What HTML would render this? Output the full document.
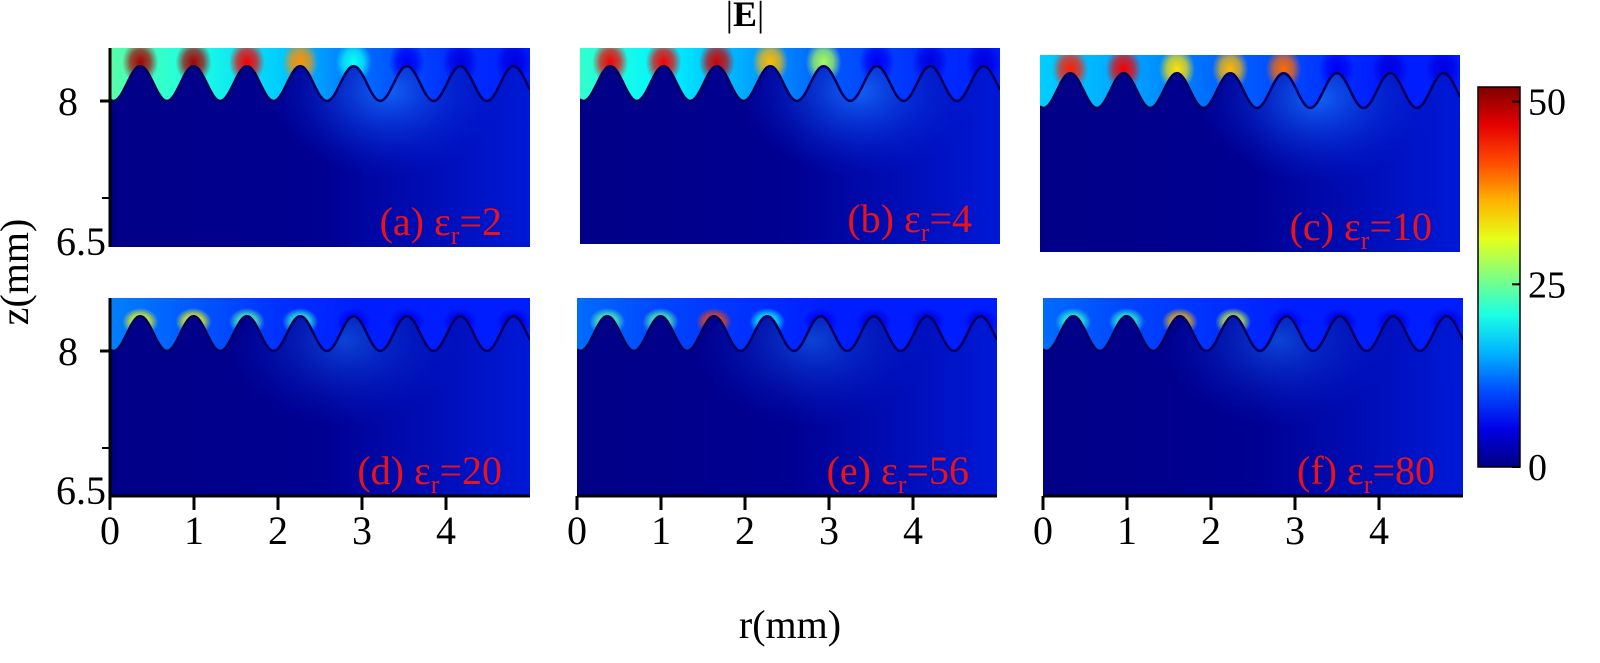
<!DOCTYPE html>
<html><head><meta charset="utf-8"><style>
body{margin:0;background:#fff}
svg{display:block;font-family:"Liberation Serif",serif}
</style></head><body>
<svg id="fig" width="1600" height="663" viewBox="0 0 1600 663" xmlns="http://www.w3.org/2000/svg">
<defs id="defs"></defs>
<text x="745" y="26" font-size="36" text-anchor="middle">|<tspan font-weight="bold">E</tspan>|</text>
<text transform="translate(28,272) rotate(-90)" font-size="40" text-anchor="middle">z(mm)</text>
<text x="790" y="638" font-size="40" text-anchor="middle">r(mm)</text>
<g id="panels"></g>
<g id="cbar"></g>
</svg>
<script>
const panelLabels=["(a)","(b)","(c)","(d)","(e)","(f)"];
const epsValues=["2","4","10","20","56","80"];
// top-field intensity (0..52) at r = 0..5 mm
const topFieldA=[24,21,17,12,9,8];
const topFieldB=[22,19,15,11,9,8];
const topFieldC=[17,15,12,10,8,8];
const topFieldD=[13,11,9,8,8,8];
const topFieldE=[12,10,9,8,8,8];
const topFieldF=[12,10,9,8,8,8];
// crest hot-spot intensities for 8 crests
const crestA=[50,50,46,38,20,6,5,5];
const crestB=[46,46,48,36,28,6,5,5];
const crestC=[44,46,34,36,40,6,5,5];
const crestD=[32,32,24,22,6,5,5,5];
const crestE=[24,24,42,20,6,5,5,5];
const crestF=[22,22,36,30,6,5,5,5];
const xTicks=[0,1,2,3,4];
const cbTicks=[0,25,50];
const topFields=[topFieldA,topFieldB,topFieldC,topFieldD,topFieldE,topFieldF];
const crests=[crestA,crestB,crestC,crestD,crestE,crestF];
const layout=[[110,48,247],[580,48,244],[1040,55,252],[110,298,496],[577,298,496],[1043,298,496]];
const VMAX=52, PXR=84, PXZ=97;
function jet(v){let t=Math.max(0,Math.min(1,v/VMAX));
 const f=(x)=>Math.max(0,Math.min(1,x));
 const r=f(1.5-Math.abs(4*t-3)),g=f(1.5-Math.abs(4*t-2)),b=f(1.5-Math.abs(4*t-1));
 return `rgb(${Math.round(r*255)},${Math.round(g*255)},${Math.round(b*255)})`;}
const NS="http://www.w3.org/2000/svg";
function mk(tag,attrs,parent){const e=document.createElementNS(NS,tag);for(const k in attrs)e.setAttribute(k,attrs[k]);parent.appendChild(e);return e;}
const defs=document.getElementById('defs');const root=document.getElementById('panels');
layout.forEach((L,i)=>{
 const [x0,top,bot]=L;const W=420;
 const sx=r=>x0+r*PXR; const y8=top+53; const sy=z=>y8-(z-8)*PXZ;
 const g=mk('g',{},root);
 
 
 const cid='clip'+i;const cp=mk('clipPath',{id:cid},defs);mk('rect',{x:x0,y:top,width:W,height:bot-top},cp);
 const bg=mk('linearGradient',{id:'bg'+i,x1:0,y1:0,x2:1,y2:0},defs);
 mk('stop',{offset:0,'stop-color':'rgb(0,0,135)'},bg);mk('stop',{offset:0.5,'stop-color':'rgb(0,0,145)'},bg);mk('stop',{offset:1,'stop-color':'rgb(0,25,215)'},bg);
 const cg=mk('g',{'clip-path':`url(#${cid})`},g);
 mk('rect',{x:x0,y:top,width:W,height:bot-top,fill:`url(#bg${i})`},cg);
 const rg=mk('radialGradient',{id:'gl'+i,cx:0.5,cy:0.3,r:0.5},defs);
 mk('stop',{offset:0,'stop-color':'rgb(20,110,255)','stop-opacity':i<3?0.9:0.6},rg);mk('stop',{offset:1,'stop-color':'rgb(0,30,220)','stop-opacity':0},rg);
 const gc=i<3?3.3:2.8;
 mk('ellipse',{cx:sx(gc),cy:sy(7.75),rx:PXR*1.4,ry:PXZ*0.9,fill:`url(#gl${i})`},cg);
 let pts=[];for(let k=0;k<=200;k++){const r=k*5/200;const z=8.18+0.18*Math.cos(2*Math.PI*(r-0.36)/0.635);pts.push([sx(r),sy(z)]);}
 const d='M'+pts.map(p=>p[0].toFixed(1)+','+p[1].toFixed(1)).join('L');
 const tf=topFields[i];const tg=mk('linearGradient',{id:'tf'+i,x1:0,y1:0,x2:1,y2:0},defs);
 tf.forEach((v,k)=>mk('stop',{offset:k/(tf.length-1),'stop-color':jet(v)},tg));
 const tp=mk('path',{d:d+`L${x0+W},${top}L${x0},${top}Z`,fill:`url(#tf${i})`},cg);
 
 
 const wcid='wc'+i;const wcp=mk('clipPath',{id:wcid},defs);mk('path',{d:d+`L${x0+W},${top-5}L${x0},${top-5}Z`},wcp);
 const hg=mk('g',{'clip-path':`url(#${wcid})`},cg);
 crests[i].forEach((v,k)=>{const r=0.36+k*0.635;
  const rgid='h'+i+'_'+k;const hr=mk('radialGradient',{id:rgid},defs);
  mk('stop',{offset:0,'stop-color':jet(v)},hr);mk('stop',{offset:0.55,'stop-color':jet(v),'stop-opacity':0.7},hr);mk('stop',{offset:1,'stop-color':jet(v),'stop-opacity':0},hr);
  const cy=i<3?sy(8.4):sy(8.3);
  const e=mk('ellipse',{cx:sx(r),cy:cy,rx:18,ry:i<3?22:14,fill:`url(#${rgid})`},hg);
  
  
 });
 mk('path',{d:d,fill:'none',stroke:'rgb(0,0,90)','stroke-width':2.5},cg);
 const t=mk('text',{x:x0+W-28,y:bot-12,'font-size':40,fill:'#e8141a','text-anchor':'end'},g);
 
 
 t.innerHTML=`${panelLabels[i]} ε<tspan font-size="26" dy="9">r</tspan><tspan dy="-9">=${epsValues[i]}</tspan>`;
 if(i===0||i===3){mk('line',{x1:x0,y1:top,x2:x0,y2:bot,stroke:'#000','stroke-width':3},g);
  mk('line',{x1:x0-10,y1:y8,x2:x0,y2:y8,stroke:'#000','stroke-width':3},g);
  mk('line',{x1:x0-8,y1:sy(7),x2:x0,y2:sy(7),stroke:'#000','stroke-width':2},g);
  mk('text',{x:x0-42,y:y8+14,'font-size':40,'text-anchor':'middle'},g).textContent='8';
  mk('text',{x:x0-4,y:bot+8,'font-size':40,'text-anchor':'end'},g).textContent='6.5';
 }
 if(i>=3){mk('line',{x1:x0,y1:bot,x2:x0+W,y2:bot,stroke:'#000','stroke-width':3},g);
  xTicks.forEach(v=>{mk('line',{x1:sx(v),y1:bot,x2:sx(v),y2:bot+14,stroke:'#000','stroke-width':3},g);
   const tt=mk('text',{x:sx(v),y:bot+48,'font-size':40,'text-anchor':'middle'},g);tt.textContent=v;
   
   });}
});
const cb=document.getElementById('cbar');const cbx=1478,cbt=87,cbb=467;
const lg=mk('linearGradient',{id:'cbg',x1:0,y1:1,x2:0,y2:0},defs);
for(let k=0;k<=10;k++)mk('stop',{offset:k/10,'stop-color':jet(k/10*VMAX)},lg);
mk('rect',{x:cbx,y:cbt,width:42,height:cbb-cbt,fill:'url(#cbg)',stroke:'#000','stroke-width':1.5},cb);
cbTicks.forEach(v=>{const y=cbb-(v/VMAX)*(cbb-cbt);
 mk('line',{x1:cbx+34,y1:y,x2:cbx+42,y2:y,stroke:'#000','stroke-width':2},cb);
 const t=mk('text',{x:cbx+50,y:y+13,'font-size':38},cb);t.textContent=v;
 
 });
</script>
</body></html>
